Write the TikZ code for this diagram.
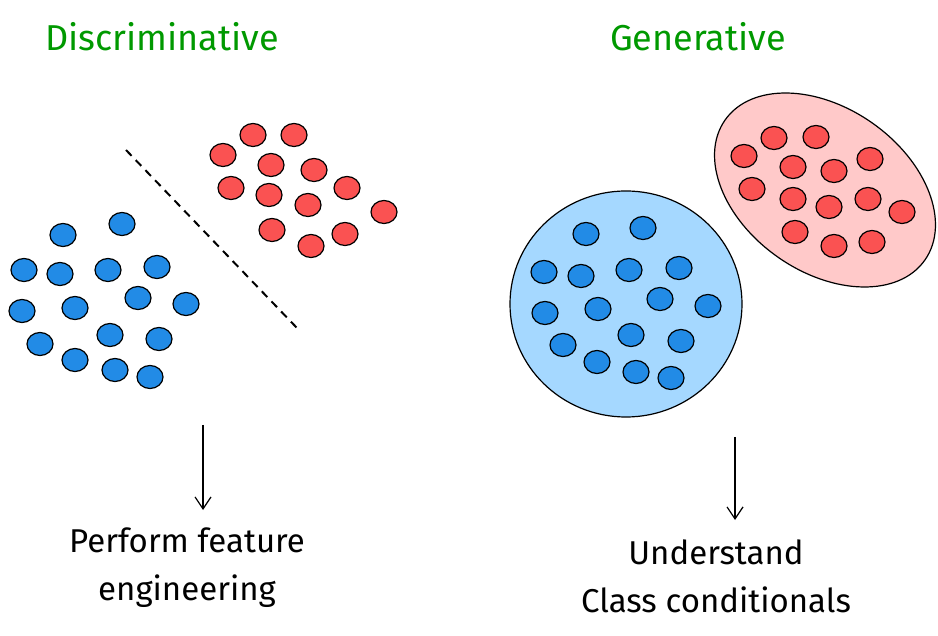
\documentclass[tikz,border=0pt]{standalone}
\usepackage{fontspec}
\setmainfont{Fira Sans}
\usetikzlibrary{arrows.meta}
\begin{document}
\begin{tikzpicture}[x=1pt,y=-1pt,
 ttl/.style={text=green!60!black,font=\fontsize{36}{40}\selectfont},
 lbl/.style={font=\fontsize{33}{48}\selectfont,align=center}]
\definecolor{db}{HTML}{228BE6}\definecolor{dr}{HTML}{FA5252}
\definecolor{lb}{HTML}{A5D8FF}\definecolor{lr}{HTML}{FFC9C9}
\useasboundingbox (0,0) rectangle (938,636);
\node[ttl] (t1) at (162,37) {Discriminative};
\node[ttl] (t2) at (698,37) {Generative};
\draw[line width=2pt,dash pattern=on 8pt off 6pt] (126,150) -- (297,328);
\foreach \x/\y in {122/224,63/235,24/270,60/274,108/270,157/267,22/311,75/308,138/298,186/304,40/344,110/335,159/339,75/360,115/370,150/377}
  \draw[line width=1.2pt,fill=db] (\x,\y) ellipse (13 and 11.5);
\foreach \x/\y in {253/135,294/135,223/155,271/165,314/170,231/188,269/195,308/205,347/188,272/230,311/246,345/234,384/212}
  \draw[line width=1.2pt,fill=dr] (\x,\y) ellipse (13 and 11.5);
\draw[line width=1.2pt,fill=lb] (626,304) ellipse (116 and 113);
\draw[line width=1.2pt,fill=lr,rotate around={-35:(825,190)}] (825,190) ellipse (122 and 82);
\foreach \x/\y in {586/234,643/228,544/272,581/276,629/270,679/268,545/313,598/309,660/299,708/306,563/345,631/335,681/341,597/362,636/372,671/378}
  \draw[line width=1.2pt,fill=db] (\x,\y) ellipse (13 and 11.5);
\foreach \x/\y in {774/138,816/137,744/156,793/167,834/171,870/159,752/189,793/199,829/207,868/199,902/212,795/232,834/246,872/242}
  \draw[line width=1.2pt,fill=dr] (\x,\y) ellipse (13 and 11.5);
\coordinate (a1) at (203,425);\coordinate (a2) at (735,437);
\node[lbl] (l1) at (187,568) {Perform feature\\engineering};
\node[lbl] (l2) at (716,576) {Understand\\Class conditionals};
\draw[-{Straight Barb[length=12pt,width=16pt]},line width=1.2pt] (a1) -- (203,510);
\draw[-{Straight Barb[length=12pt,width=16pt]},line width=1.2pt] (a2) -- (735,520);
\end{tikzpicture}
\end{document}
